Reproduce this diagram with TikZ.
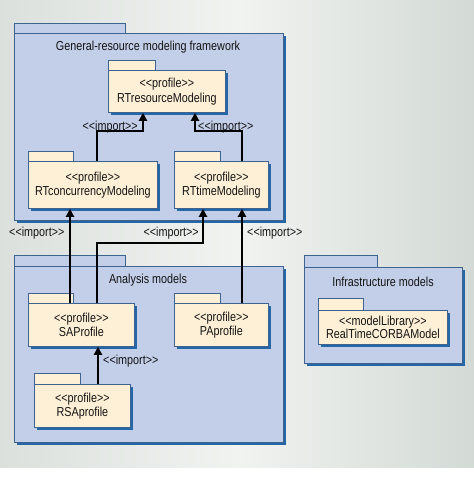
\documentclass[tikz,border=0pt]{standalone}
\usepackage{fontspec}
\setmainfont{Liberation Sans}[FakeStretch=0.83]
\usetikzlibrary{arrows.meta,shadows}
\newcommand\dlt{<\kern0pt<}
\newcommand\dgt{>\kern0pt>}
\definecolor{bgside}{HTML}{DBE0DD}
\definecolor{bgright}{HTML}{D3DAD6}
\definecolor{bgmid}{HTML}{F1F3F1}
\definecolor{pkgfill}{HTML}{C3CEE8}
\definecolor{pkgline}{HTML}{3E6390}
\definecolor{shad}{HTML}{2566A6}
\definecolor{boxfill}{HTML}{FEF0D6}
\definecolor{txt}{HTML}{141414}
\tikzset{
  pkgbody/.style={draw=pkgline, fill=pkgfill, line width=0.8pt, anchor=north west,
    inner sep=0pt, drop shadow={shadow xshift=3pt, shadow yshift=-3pt, fill=shad, opacity=1}},
  pkgtab/.style={draw=pkgline, fill=pkgfill, line width=0.8pt},
  boxbody/.style={draw=pkgline, fill=boxfill, line width=0.8pt, anchor=north west,
    inner sep=0pt, align=center, text=txt, font=\fontsize{13}{14.5}\selectfont,
    drop shadow={shadow xshift=3pt, shadow yshift=-3pt, fill=shad, opacity=1}},
  boxtab/.style={draw=pkgline, fill=boxfill, line width=0.8pt},
  ttl/.style={text=txt, font=\fontsize{13}{15}\selectfont, inner sep=0pt},
  lbl/.style={text=txt, font=\fontsize{13}{15}\selectfont, inner sep=1pt},
  imp/.style={line width=2.5pt, draw=black, -{Triangle[length=8pt,width=8pt]}}
}
\begin{document}
\begin{tikzpicture}[x=1pt,y=-1pt]
\useasboundingbox (0,0) rectangle (474,477);
\fill[white] (0,0) rectangle (474,477);
\shade[left color=bgside, right color=bgright, middle color=bgmid] (0,0) rectangle (474,467);

% General-resource modeling framework
\draw[pkgtab] (14,23) rectangle (125,33);
\node[pkgbody, minimum width=269pt, minimum height=187pt] (gpkg) at (14,33) {};
\node[ttl] (gttl) at (148,47) {General-resource modeling framework};

\draw[boxtab] (108,60) rectangle (155,70);
\node[boxbody, minimum width=117pt, minimum height=42pt] (rtr) at (108,70) {\dlt profile\dgt\\RTresourceModeling};

\draw[boxtab] (28,151) rectangle (73,161);
\node[boxbody, minimum width=129pt, minimum height=47pt] (rtc) at (28,161) {\dlt profile\dgt\\RTconcurrencyModeling};

\draw[boxtab] (174,151) rectangle (220,161);
\node[boxbody, minimum width=94pt, minimum height=47pt] (rtt) at (174,161) {\dlt profile\dgt\\RTtimeModeling};

% Analysis models
\draw[pkgtab] (14,255) rectangle (125,266);
\node[pkgbody, minimum width=269pt, minimum height=176pt] (apkg) at (14,266) {};
\node[ttl] (attl) at (148,280) {Analysis models};

\draw[boxtab] (28,293) rectangle (73,303);
\node[boxbody, minimum width=106pt, minimum height=43pt] (sap) at (28,303) {\dlt profile\dgt\\SAProfile};

\draw[boxtab] (174,293) rectangle (220,303);
\node[boxbody, minimum width=94pt, minimum height=43pt] (pap) at (174,303) {\dlt profile\dgt\\PAprofile};

\draw[boxtab] (34,373) rectangle (80,384);
\node[boxbody, minimum width=96pt, minimum height=43pt] (rsa) at (34,384) {\dlt profile\dgt\\RSAprofile};

% Infrastructure models
\draw[pkgtab] (304,255) rectangle (377,267);
\node[pkgbody, minimum width=158pt, minimum height=96pt] (ipkg) at (304,267) {};
\node[ttl] (ittl) at (383,282) {Infrastructure models};

\draw[boxtab] (318,298) rectangle (363,310);
\node[boxbody, minimum width=129pt, minimum height=34pt, font=\fontsize{13}{13}\selectfont] (corba) at (318,310) {\dlt modelLibrary\dgt\\RealTimeCORBAModel};

% bends
\coordinate (b1) at (97,131);
\coordinate (b2) at (143,131);
\coordinate (b3) at (242,131);
\coordinate (b4) at (195,131);
\coordinate (b5) at (97,243);
\coordinate (b6) at (203,243);

% connectors
\draw[imp] ([xshift=69pt]rtc.north west) -- (b1) -- (b2) -- (b2 |- rtr.south);
\draw[imp] ([xshift=68pt]rtt.north west) -- (b3) -- (b4) -- (b4 |- rtr.south);
\draw[imp] ([xshift=42pt]sap.north west) -- ([xshift=42pt]rtc.south west);
\draw[imp] ([xshift=69pt]sap.north west) -- (b5) -- (b6) -- (b6 |- rtt.south);
\draw[imp] ([xshift=68pt]pap.north west) -- ([xshift=68pt]rtt.south west);
\draw[imp] ([xshift=64pt]rsa.north west) -- ([xshift=70pt]sap.south west);

% labels
\node[lbl, anchor=east] (l1) at (139,127) {\dlt import\dgt};
\node[lbl, anchor=west] (l2) at (197,127) {\dlt import\dgt};
\node[lbl, anchor=west] (l3) at (8,233) {\dlt import\dgt};
\node[lbl, anchor=east] (l4) at (200,233) {\dlt import\dgt};
\node[lbl, anchor=west] (l5) at (246,233) {\dlt import\dgt};
\node[lbl, anchor=west] (l6) at (102,361) {\dlt import\dgt};
\end{tikzpicture}
\end{document}
